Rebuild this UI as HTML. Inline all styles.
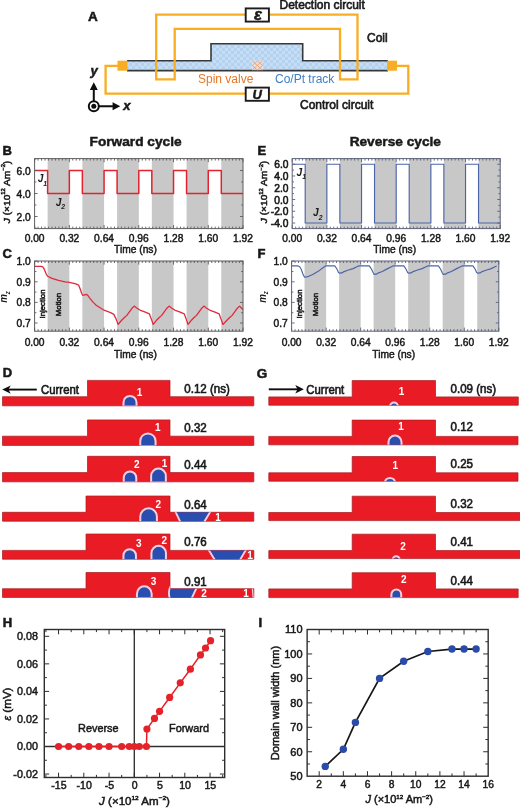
<!DOCTYPE html>
<html><head><meta charset="utf-8"><title>Figure</title>
<style>
html,body{margin:0;padding:0;background:#fff;}
body{width:520px;height:808px;overflow:hidden;}
svg{display:block;}
text{font-family:"Liberation Sans",sans-serif;fill:#1a1a1a;}
text{stroke:#1a1a1a;stroke-width:0.5px;}
.nos{stroke:none;}
.b{font-weight:bold;}
.lab{stroke-width:0.55px;}
.hv{stroke-width:0.62px;}
.i{font-style:italic;}
</style></head><body>
<svg width="520" height="808" viewBox="0 0 520 808">
<defs>
<pattern id="dots" width="6" height="6" patternUnits="userSpaceOnUse">
<rect width="6" height="6" fill="#c6def4"/>
<rect x="0" y="0" width="3" height="3" fill="#b4d2ef"/>
<rect x="3" y="3" width="3" height="3" fill="#b4d2ef"/>
</pattern>
<filter id="soft" x="-5%" y="-5%" width="110%" height="110%"><feGaussianBlur stdDeviation="0.35"/></filter>
</defs>
<rect width="520" height="808" fill="#fff"/>
<g filter="url(#soft)">

<g id="pA">
<text x="88" y="21.3" class="b lab" font-size="13.5">A</text>
<path d="M127 60.8 H211 V43.7 H302.7 V60.8 H388 V70.6 H127 Z" fill="url(#dots)"/>
<path d="M127 60.8 H211 V43.7 H302.7 V60.8 H388" fill="none" stroke="#383838" stroke-width="1.6"/>
<path d="M127 70.6 H388" fill="none" stroke="#383838" stroke-width="1.6"/>
<path d="M245.5 14.6 H156.2 V79.3 H174.7 V28.8 H340 V79.3 H357.5 V14.6 H269.5" fill="none" stroke="#f8ad22" stroke-width="2.3"/>
<path d="M118 65.8 H105.6 V93.7 H245.5 M269.5 93.7 H408.3 V65.8 H396" fill="none" stroke="#f8ad22" stroke-width="2.3"/>
<rect x="117.5" y="60.7" width="10" height="10" fill="#f8ad22"/>
<rect x="387" y="60.7" width="10" height="10" fill="#f8ad22"/>
<rect x="245.7" y="8.4" width="23.2" height="13.2" fill="#fff" stroke="#1c1c1c" stroke-width="1.9"/>
<rect x="245.7" y="87.6" width="23.2" height="13.2" fill="#fff" stroke="#1c1c1c" stroke-width="1.9"/>
<text x="258" y="20" text-anchor="middle" class="b i" font-size="16.5" stroke="#1a1a1a" stroke-width="0.3">ε</text>
<text x="257.3" y="99.2" text-anchor="middle" class="b i" font-size="13" stroke="#1a1a1a" stroke-width="0.3">U</text>
<rect x="252" y="60.6" width="10.6" height="9.6" fill="#fbe9dc" opacity="0.55"/><g stroke="#f0a070" stroke-width="0.9" fill="none"><path d="M252.3 61 l5 4.5 l-5 4.5 M262.3 61 l-5 4.5 l5 4.5 M257.3 61 l-5 4.5 l5 4.5 l5 -4.5 Z"/></g>
<text x="279.5" y="9" font-size="12" class="hv">Detection circuit</text>
<text x="367" y="41.5" font-size="12" class="hv">Coil</text>
<text x="198" y="82.5" font-size="12" class="nos" style="fill:#e8772a">Spin valve</text>
<text x="275" y="82.5" font-size="12" class="nos" style="fill:#3f7fc4">Co/Pt track</text>
<text x="300" y="108.7" font-size="12" class="hv">Control circuit</text>
<g stroke="#111" stroke-width="2" fill="none"><path d="M93.8 106.2 V88 M93.8 106.2 H113"/><circle cx="93.8" cy="106.2" r="5" fill="#fff"/></g>
<circle cx="93.8" cy="106.2" r="2.5" fill="#111"/>
<path d="M93.8 82.3 l-4 7.7 h8 Z M120.3 106.2 l-7.7 -4 v8 Z" fill="#111"/>
<text x="90.5" y="75" class="b i" font-size="13">y</text>
<text x="123.3" y="110.3" class="b i" font-size="13">x</text>
</g>
<text x="135.6" y="146.3" text-anchor="middle" class="b" font-size="13.7">Forward cycle</text>
<text x="395.3" y="146.3" text-anchor="middle" class="b" font-size="13.7">Reverse cycle</text>
<g>
<rect x="47.62" y="158.6" width="21.71" height="70.0" fill="#c8c8c8"/>
<rect x="82.36" y="158.6" width="21.71" height="70.0" fill="#c8c8c8"/>
<rect x="117.09" y="158.6" width="21.71" height="70.0" fill="#c8c8c8"/>
<rect x="151.83" y="158.6" width="21.71" height="70.0" fill="#c8c8c8"/>
<rect x="186.56" y="158.6" width="21.71" height="70.0" fill="#c8c8c8"/>
<rect x="221.29" y="158.6" width="21.71" height="70.0" fill="#c8c8c8"/>
<path d="M34.60 170.50 L47.62 170.50 L47.62 193.50 L69.33 193.50 L69.33 170.50 L82.36 170.50 L82.36 193.50 L104.07 193.50 L104.07 170.50 L117.09 170.50 L117.09 193.50 L138.80 193.50 L138.80 170.50 L151.83 170.50 L151.83 193.50 L173.53 193.50 L173.53 170.50 L186.56 170.50 L186.56 193.50 L208.27 193.50 L208.27 170.50 L221.29 170.50 L221.29 193.50 L243.00 193.50" fill="none" stroke="#e2232d" stroke-width="1.5" stroke-linejoin="round"/>
<rect x="34.6" y="158.6" width="208.4" height="70.0" fill="none" stroke="#5e5e5e" stroke-width="1"/>
<path d="M34.60 228.6 v-3.6 M34.60 158.6 v3.6 M69.33 228.6 v-3.6 M69.33 158.6 v3.6 M104.07 228.6 v-3.6 M104.07 158.6 v3.6 M138.80 228.6 v-3.6 M138.80 158.6 v3.6 M173.53 228.6 v-3.6 M173.53 158.6 v3.6 M208.27 228.6 v-3.6 M208.27 158.6 v3.6 M243.00 228.6 v-3.6 M243.00 158.6 v3.6 M38.07 228.6 v-2 M38.07 158.6 v2 M41.55 228.6 v-2 M41.55 158.6 v2 M45.02 228.6 v-2 M45.02 158.6 v2 M48.49 228.6 v-2 M48.49 158.6 v2 M51.97 228.6 v-2 M51.97 158.6 v2 M55.44 228.6 v-2 M55.44 158.6 v2 M58.91 228.6 v-2 M58.91 158.6 v2 M62.39 228.6 v-2 M62.39 158.6 v2 M65.86 228.6 v-2 M65.86 158.6 v2 M72.81 228.6 v-2 M72.81 158.6 v2 M76.28 228.6 v-2 M76.28 158.6 v2 M79.75 228.6 v-2 M79.75 158.6 v2 M83.23 228.6 v-2 M83.23 158.6 v2 M86.70 228.6 v-2 M86.70 158.6 v2 M90.17 228.6 v-2 M90.17 158.6 v2 M93.65 228.6 v-2 M93.65 158.6 v2 M97.12 228.6 v-2 M97.12 158.6 v2 M100.59 228.6 v-2 M100.59 158.6 v2 M107.54 228.6 v-2 M107.54 158.6 v2 M111.01 228.6 v-2 M111.01 158.6 v2 M114.49 228.6 v-2 M114.49 158.6 v2 M117.96 228.6 v-2 M117.96 158.6 v2 M121.43 228.6 v-2 M121.43 158.6 v2 M124.91 228.6 v-2 M124.91 158.6 v2 M128.38 228.6 v-2 M128.38 158.6 v2 M131.85 228.6 v-2 M131.85 158.6 v2 M135.33 228.6 v-2 M135.33 158.6 v2 M142.27 228.6 v-2 M142.27 158.6 v2 M145.75 228.6 v-2 M145.75 158.6 v2 M149.22 228.6 v-2 M149.22 158.6 v2 M152.69 228.6 v-2 M152.69 158.6 v2 M156.17 228.6 v-2 M156.17 158.6 v2 M159.64 228.6 v-2 M159.64 158.6 v2 M163.11 228.6 v-2 M163.11 158.6 v2 M166.59 228.6 v-2 M166.59 158.6 v2 M170.06 228.6 v-2 M170.06 158.6 v2 M177.01 228.6 v-2 M177.01 158.6 v2 M180.48 228.6 v-2 M180.48 158.6 v2 M183.95 228.6 v-2 M183.95 158.6 v2 M187.43 228.6 v-2 M187.43 158.6 v2 M190.90 228.6 v-2 M190.90 158.6 v2 M194.37 228.6 v-2 M194.37 158.6 v2 M197.85 228.6 v-2 M197.85 158.6 v2 M201.32 228.6 v-2 M201.32 158.6 v2 M204.79 228.6 v-2 M204.79 158.6 v2 M211.74 228.6 v-2 M211.74 158.6 v2 M215.21 228.6 v-2 M215.21 158.6 v2 M218.69 228.6 v-2 M218.69 158.6 v2 M222.16 228.6 v-2 M222.16 158.6 v2 M225.63 228.6 v-2 M225.63 158.6 v2 M229.11 228.6 v-2 M229.11 158.6 v2 M232.58 228.6 v-2 M232.58 158.6 v2 M236.05 228.6 v-2 M236.05 158.6 v2 M239.53 228.6 v-2 M239.53 158.6 v2 M34.6 170.50 h3 M243 170.50 h-3 M34.6 193.50 h3 M243 193.50 h-3 M34.6 216.50 h3 M243 216.50 h-3 M34.6 228.00 h1.8 M243 228.00 h-1.8 M34.6 205.00 h1.8 M243 205.00 h-1.8 M34.6 182.00 h1.8 M243 182.00 h-1.8 M34.6 159.00 h1.8 M243 159.00 h-1.8" stroke="#5e5e5e" stroke-width="0.9" fill="none"/>
<text transform="translate(34.60,242.30) scale(0.93,1)" text-anchor="middle" font-size="11">0.00</text>
<text transform="translate(69.33,242.30) scale(0.93,1)" text-anchor="middle" font-size="11">0.32</text>
<text transform="translate(104.07,242.30) scale(0.93,1)" text-anchor="middle" font-size="11">0.64</text>
<text transform="translate(138.80,242.30) scale(0.93,1)" text-anchor="middle" font-size="11">0.96</text>
<text transform="translate(173.53,242.30) scale(0.93,1)" text-anchor="middle" font-size="11">1.28</text>
<text transform="translate(208.27,242.30) scale(0.93,1)" text-anchor="middle" font-size="11">1.60</text>
<text transform="translate(243.00,242.30) scale(0.93,1)" text-anchor="middle" font-size="11">1.92</text>
<text transform="translate(30.80,174.50) scale(0.93,1)" text-anchor="end" font-size="11">6.0</text>
<text transform="translate(30.80,197.50) scale(0.93,1)" text-anchor="end" font-size="11">4.0</text>
<text transform="translate(30.80,220.50) scale(0.93,1)" text-anchor="end" font-size="11">2.0</text>
<text transform="translate(135.50,253.10) scale(0.93,1)" text-anchor="middle" font-size="11">Time (ns)</text>
<text x="2.6" y="155.3" class="b lab" font-size="13">B</text>
<text transform="translate(9.80,192.00) rotate(-90) scale(1.05,1)" text-anchor="middle" font-size="9.7"><tspan class="i">J</tspan> (×10<tspan font-size="5.5" dy="-4.8">12</tspan><tspan dy="4.8"> Am</tspan><tspan font-size="5.5" dy="-4.8">−2</tspan><tspan dy="4.8">)</tspan></text><text x="37.7" y="182.2" class="b i nos" font-size="10.2">J<tspan font-size="6.8" dy="3.8">1</tspan></text><text x="55.7" y="205.5" class="b i nos" font-size="10.2">J<tspan font-size="6.8" dy="3.8">2</tspan></text>
</g>
<g>
<rect x="305.20" y="158.6" width="21.67" height="70.0" fill="#c8c8c8"/>
<rect x="339.87" y="158.6" width="21.67" height="70.0" fill="#c8c8c8"/>
<rect x="374.53" y="158.6" width="21.67" height="70.0" fill="#c8c8c8"/>
<rect x="409.20" y="158.6" width="21.67" height="70.0" fill="#c8c8c8"/>
<rect x="443.87" y="158.6" width="21.67" height="70.0" fill="#c8c8c8"/>
<rect x="478.53" y="158.6" width="21.67" height="70.0" fill="#c8c8c8"/>
<path d="M292.20 164.22 L305.20 164.22 L305.20 223.02 L326.87 223.02 L326.87 164.22 L339.87 164.22 L339.87 223.02 L361.53 223.02 L361.53 164.22 L374.53 164.22 L374.53 223.02 L396.20 223.02 L396.20 164.22 L409.20 164.22 L409.20 223.02 L430.87 223.02 L430.87 164.22 L443.87 164.22 L443.87 223.02 L465.53 223.02 L465.53 164.22 L478.53 164.22 L478.53 223.02 L500.20 223.02" fill="none" stroke="#4c64a8" stroke-width="1.15" stroke-linejoin="round"/>
<rect x="292.2" y="158.6" width="208.0" height="70.0" fill="none" stroke="#5c6278" stroke-width="1"/>
<path d="M292.20 228.6 v-3.6 M292.20 158.6 v3.6 M326.87 228.6 v-3.6 M326.87 158.6 v3.6 M361.53 228.6 v-3.6 M361.53 158.6 v3.6 M396.20 228.6 v-3.6 M396.20 158.6 v3.6 M430.87 228.6 v-3.6 M430.87 158.6 v3.6 M465.53 228.6 v-3.6 M465.53 158.6 v3.6 M500.20 228.6 v-3.6 M500.20 158.6 v3.6 M295.67 228.6 v-2 M295.67 158.6 v2 M299.13 228.6 v-2 M299.13 158.6 v2 M302.60 228.6 v-2 M302.60 158.6 v2 M306.07 228.6 v-2 M306.07 158.6 v2 M309.53 228.6 v-2 M309.53 158.6 v2 M313.00 228.6 v-2 M313.00 158.6 v2 M316.47 228.6 v-2 M316.47 158.6 v2 M319.93 228.6 v-2 M319.93 158.6 v2 M323.40 228.6 v-2 M323.40 158.6 v2 M330.33 228.6 v-2 M330.33 158.6 v2 M333.80 228.6 v-2 M333.80 158.6 v2 M337.27 228.6 v-2 M337.27 158.6 v2 M340.73 228.6 v-2 M340.73 158.6 v2 M344.20 228.6 v-2 M344.20 158.6 v2 M347.67 228.6 v-2 M347.67 158.6 v2 M351.13 228.6 v-2 M351.13 158.6 v2 M354.60 228.6 v-2 M354.60 158.6 v2 M358.07 228.6 v-2 M358.07 158.6 v2 M365.00 228.6 v-2 M365.00 158.6 v2 M368.47 228.6 v-2 M368.47 158.6 v2 M371.93 228.6 v-2 M371.93 158.6 v2 M375.40 228.6 v-2 M375.40 158.6 v2 M378.87 228.6 v-2 M378.87 158.6 v2 M382.33 228.6 v-2 M382.33 158.6 v2 M385.80 228.6 v-2 M385.80 158.6 v2 M389.27 228.6 v-2 M389.27 158.6 v2 M392.73 228.6 v-2 M392.73 158.6 v2 M399.67 228.6 v-2 M399.67 158.6 v2 M403.13 228.6 v-2 M403.13 158.6 v2 M406.60 228.6 v-2 M406.60 158.6 v2 M410.07 228.6 v-2 M410.07 158.6 v2 M413.53 228.6 v-2 M413.53 158.6 v2 M417.00 228.6 v-2 M417.00 158.6 v2 M420.47 228.6 v-2 M420.47 158.6 v2 M423.93 228.6 v-2 M423.93 158.6 v2 M427.40 228.6 v-2 M427.40 158.6 v2 M434.33 228.6 v-2 M434.33 158.6 v2 M437.80 228.6 v-2 M437.80 158.6 v2 M441.27 228.6 v-2 M441.27 158.6 v2 M444.73 228.6 v-2 M444.73 158.6 v2 M448.20 228.6 v-2 M448.20 158.6 v2 M451.67 228.6 v-2 M451.67 158.6 v2 M455.13 228.6 v-2 M455.13 158.6 v2 M458.60 228.6 v-2 M458.60 158.6 v2 M462.07 228.6 v-2 M462.07 158.6 v2 M469.00 228.6 v-2 M469.00 158.6 v2 M472.47 228.6 v-2 M472.47 158.6 v2 M475.93 228.6 v-2 M475.93 158.6 v2 M479.40 228.6 v-2 M479.40 158.6 v2 M482.87 228.6 v-2 M482.87 158.6 v2 M486.33 228.6 v-2 M486.33 158.6 v2 M489.80 228.6 v-2 M489.80 158.6 v2 M493.27 228.6 v-2 M493.27 158.6 v2 M496.73 228.6 v-2 M496.73 158.6 v2 M292.2 164.22 h3 M500.2 164.22 h-3 M292.2 175.98 h3 M500.2 175.98 h-3 M292.2 187.74 h3 M500.2 187.74 h-3 M292.2 199.50 h3 M500.2 199.50 h-3 M292.2 211.26 h3 M500.2 211.26 h-3 M292.2 223.02 h3 M500.2 223.02 h-3 M292.2 170.10 h1.8 M500.2 170.10 h-1.8 M292.2 181.86 h1.8 M500.2 181.86 h-1.8 M292.2 193.62 h1.8 M500.2 193.62 h-1.8 M292.2 205.38 h1.8 M500.2 205.38 h-1.8 M292.2 217.14 h1.8 M500.2 217.14 h-1.8" stroke="#5c6278" stroke-width="0.9" fill="none"/>
<text transform="translate(292.20,242.30) scale(0.93,1)" text-anchor="middle" font-size="11">0.00</text>
<text transform="translate(326.87,242.30) scale(0.93,1)" text-anchor="middle" font-size="11">0.32</text>
<text transform="translate(361.53,242.30) scale(0.93,1)" text-anchor="middle" font-size="11">0.64</text>
<text transform="translate(396.20,242.30) scale(0.93,1)" text-anchor="middle" font-size="11">0.96</text>
<text transform="translate(430.87,242.30) scale(0.93,1)" text-anchor="middle" font-size="11">1.28</text>
<text transform="translate(465.53,242.30) scale(0.93,1)" text-anchor="middle" font-size="11">1.60</text>
<text transform="translate(500.20,242.30) scale(0.93,1)" text-anchor="middle" font-size="11">1.92</text>
<text transform="translate(288.40,168.22) scale(0.93,1)" text-anchor="end" font-size="11" class="hv">6.0</text>
<text transform="translate(288.40,179.98) scale(0.93,1)" text-anchor="end" font-size="11" class="hv">4.0</text>
<text transform="translate(288.40,191.74) scale(0.93,1)" text-anchor="end" font-size="11" class="hv">2.0</text>
<text transform="translate(288.40,203.50) scale(0.93,1)" text-anchor="end" font-size="11" class="hv">0.0</text>
<text transform="translate(288.40,215.26) scale(0.93,1)" text-anchor="end" font-size="11" class="hv">-2.0</text>
<text transform="translate(288.40,227.02) scale(0.93,1)" text-anchor="end" font-size="11" class="hv">-4.0</text>
<text transform="translate(394.70,253.10) scale(0.93,1)" text-anchor="middle" font-size="11">Time (ns)</text>
<text x="257.6" y="155.3" class="b lab" font-size="13">E</text>
<text transform="translate(267.40,192.00) rotate(-90) scale(1.05,1)" text-anchor="middle" font-size="9.7"><tspan class="i">J</tspan> (×10<tspan font-size="5.5" dy="-4.8">12</tspan><tspan dy="4.8"> Am</tspan><tspan font-size="5.5" dy="-4.8">−2</tspan><tspan dy="4.8">)</tspan></text><text x="296.5" y="175.6" class="b i nos" font-size="10.2">J<tspan font-size="6.8" dy="3.8">1</tspan></text><text x="313" y="216.2" class="b i nos" font-size="10.2">J<tspan font-size="6.8" dy="3.8">2</tspan></text>
</g>
<g>
<rect x="47.62" y="261" width="21.71" height="70.19999999999999" fill="#c8c8c8"/>
<rect x="82.36" y="261" width="21.71" height="70.19999999999999" fill="#c8c8c8"/>
<rect x="117.09" y="261" width="21.71" height="70.19999999999999" fill="#c8c8c8"/>
<rect x="151.83" y="261" width="21.71" height="70.19999999999999" fill="#c8c8c8"/>
<rect x="186.56" y="261" width="21.71" height="70.19999999999999" fill="#c8c8c8"/>
<rect x="221.29" y="261" width="21.71" height="70.19999999999999" fill="#c8c8c8"/>
<path d="M34.60 266.35 L41.11 266.35 L42.74 266.97 L44.37 269.44 L46.00 273.56 L47.62 276.24 L51.97 278.30 L58.48 280.36 L64.99 281.80 L69.33 282.42 L75.85 283.86 L78.56 285.10 L80.19 289.01 L81.82 293.75 L82.90 295.40 L84.53 294.78 L86.16 294.37 L87.79 295.40 L89.96 298.28 L93.21 302.40 L96.47 305.49 L99.72 307.55 L104.07 310.23 L110.58 312.70 L113.84 314.35 L116.01 318.88 L118.18 324.44 L121.43 320.53 L124.69 317.23 L126.86 315.38 L129.03 312.29 L132.29 307.96 L134.24 306.11 L136.63 307.96 L139.89 310.02 L145.31 312.08 L149.44 313.94 L151.28 318.88 L153.24 324.44 L156.28 320.53 L159.53 317.23 L161.70 315.38 L163.87 312.29 L167.13 307.96 L169.08 306.11 L171.47 307.96 L174.73 310.02 L180.15 312.08 L184.28 313.94 L186.12 318.88 L188.08 324.44 L191.12 320.53 L194.37 317.23 L196.54 315.38 L198.72 312.29 L201.97 307.96 L203.92 306.11 L206.31 307.96 L209.57 310.02 L215.00 312.08 L219.12 313.94 L220.97 318.88 L222.92 324.44 L226.72 320.53 L229.98 317.23 L232.15 315.38 L234.32 312.29 L237.57 307.96 L239.53 306.11 L241.37 307.96 L243.00 309.40" fill="none" stroke="#df2b3c" stroke-width="1.3" stroke-linejoin="round"/>
<rect x="34.6" y="261" width="208.4" height="70.19999999999999" fill="none" stroke="#5e5a5a" stroke-width="1"/>
<path d="M34.60 331.2 v-3.6 M34.60 261 v3.6 M69.33 331.2 v-3.6 M69.33 261 v3.6 M104.07 331.2 v-3.6 M104.07 261 v3.6 M138.80 331.2 v-3.6 M138.80 261 v3.6 M173.53 331.2 v-3.6 M173.53 261 v3.6 M208.27 331.2 v-3.6 M208.27 261 v3.6 M243.00 331.2 v-3.6 M243.00 261 v3.6 M38.07 331.2 v-2 M38.07 261 v2 M41.55 331.2 v-2 M41.55 261 v2 M45.02 331.2 v-2 M45.02 261 v2 M48.49 331.2 v-2 M48.49 261 v2 M51.97 331.2 v-2 M51.97 261 v2 M55.44 331.2 v-2 M55.44 261 v2 M58.91 331.2 v-2 M58.91 261 v2 M62.39 331.2 v-2 M62.39 261 v2 M65.86 331.2 v-2 M65.86 261 v2 M72.81 331.2 v-2 M72.81 261 v2 M76.28 331.2 v-2 M76.28 261 v2 M79.75 331.2 v-2 M79.75 261 v2 M83.23 331.2 v-2 M83.23 261 v2 M86.70 331.2 v-2 M86.70 261 v2 M90.17 331.2 v-2 M90.17 261 v2 M93.65 331.2 v-2 M93.65 261 v2 M97.12 331.2 v-2 M97.12 261 v2 M100.59 331.2 v-2 M100.59 261 v2 M107.54 331.2 v-2 M107.54 261 v2 M111.01 331.2 v-2 M111.01 261 v2 M114.49 331.2 v-2 M114.49 261 v2 M117.96 331.2 v-2 M117.96 261 v2 M121.43 331.2 v-2 M121.43 261 v2 M124.91 331.2 v-2 M124.91 261 v2 M128.38 331.2 v-2 M128.38 261 v2 M131.85 331.2 v-2 M131.85 261 v2 M135.33 331.2 v-2 M135.33 261 v2 M142.27 331.2 v-2 M142.27 261 v2 M145.75 331.2 v-2 M145.75 261 v2 M149.22 331.2 v-2 M149.22 261 v2 M152.69 331.2 v-2 M152.69 261 v2 M156.17 331.2 v-2 M156.17 261 v2 M159.64 331.2 v-2 M159.64 261 v2 M163.11 331.2 v-2 M163.11 261 v2 M166.59 331.2 v-2 M166.59 261 v2 M170.06 331.2 v-2 M170.06 261 v2 M177.01 331.2 v-2 M177.01 261 v2 M180.48 331.2 v-2 M180.48 261 v2 M183.95 331.2 v-2 M183.95 261 v2 M187.43 331.2 v-2 M187.43 261 v2 M190.90 331.2 v-2 M190.90 261 v2 M194.37 331.2 v-2 M194.37 261 v2 M197.85 331.2 v-2 M197.85 261 v2 M201.32 331.2 v-2 M201.32 261 v2 M204.79 331.2 v-2 M204.79 261 v2 M211.74 331.2 v-2 M211.74 261 v2 M215.21 331.2 v-2 M215.21 261 v2 M218.69 331.2 v-2 M218.69 261 v2 M222.16 331.2 v-2 M222.16 261 v2 M225.63 331.2 v-2 M225.63 261 v2 M229.11 331.2 v-2 M229.11 261 v2 M232.58 331.2 v-2 M232.58 261 v2 M236.05 331.2 v-2 M236.05 261 v2 M239.53 331.2 v-2 M239.53 261 v2 M34.6 261.20 h3 M243 261.20 h-3 M34.6 281.80 h3 M243 281.80 h-3 M34.6 302.40 h3 M243 302.40 h-3 M34.6 323.00 h3 M243 323.00 h-3 M34.6 271.50 h1.8 M243 271.50 h-1.8 M34.6 292.10 h1.8 M243 292.10 h-1.8 M34.6 312.70 h1.8 M243 312.70 h-1.8" stroke="#5e5a5a" stroke-width="0.9" fill="none"/>
<text transform="translate(34.60,346.00) scale(0.93,1)" text-anchor="middle" font-size="11">0.00</text>
<text transform="translate(69.33,346.00) scale(0.93,1)" text-anchor="middle" font-size="11">0.32</text>
<text transform="translate(104.07,346.00) scale(0.93,1)" text-anchor="middle" font-size="11">0.64</text>
<text transform="translate(138.80,346.00) scale(0.93,1)" text-anchor="middle" font-size="11">0.96</text>
<text transform="translate(173.53,346.00) scale(0.93,1)" text-anchor="middle" font-size="11">1.28</text>
<text transform="translate(208.27,346.00) scale(0.93,1)" text-anchor="middle" font-size="11">1.60</text>
<text transform="translate(243.00,346.00) scale(0.93,1)" text-anchor="middle" font-size="11">1.92</text>
<text transform="translate(30.80,265.20) scale(0.93,1)" text-anchor="end" font-size="11">1.0</text>
<text transform="translate(30.80,285.80) scale(0.93,1)" text-anchor="end" font-size="11">0.9</text>
<text transform="translate(30.80,306.40) scale(0.93,1)" text-anchor="end" font-size="11">0.8</text>
<text transform="translate(30.80,327.00) scale(0.93,1)" text-anchor="end" font-size="11">0.7</text>
<text transform="translate(135.50,358.00) scale(0.93,1)" text-anchor="middle" font-size="11">Time (ns)</text>
<text x="2.6" y="257.5" class="b lab" font-size="13">C</text>
<text transform="translate(7.30,297.00) rotate(-90) scale(0.93,1)" text-anchor="middle" font-size="10.5" class="b nos"><tspan class="i">m</tspan><tspan class="i" font-size="6.5" dy="2.5">z</tspan></text><text transform="translate(44.50,318.50) rotate(-90) scale(1,1)" text-anchor="start" font-size="7.8">Injection</text><text transform="translate(60.80,316.20) rotate(-90) scale(1,1)" text-anchor="start" font-size="7.8">Motion</text>
</g>
<g>
<rect x="304.55" y="261" width="21.58" height="70.19999999999999" fill="#c8c8c8"/>
<rect x="339.08" y="261" width="21.58" height="70.19999999999999" fill="#c8c8c8"/>
<rect x="373.62" y="261" width="21.58" height="70.19999999999999" fill="#c8c8c8"/>
<rect x="408.15" y="261" width="21.58" height="70.19999999999999" fill="#c8c8c8"/>
<rect x="442.68" y="261" width="21.58" height="70.19999999999999" fill="#c8c8c8"/>
<rect x="477.22" y="261" width="21.58" height="70.19999999999999" fill="#c8c8c8"/>
<path d="M291.60 265.94 L298.08 265.94 L299.69 266.76 L301.31 269.44 L302.93 273.97 L304.55 277.27 L307.79 276.65 L313.18 274.18 L318.58 271.09 L322.90 267.79 L325.59 265.94 L334.77 265.94 L335.31 266.56 L336.93 269.03 L338.54 272.53 L339.62 273.15 L341.78 272.94 L343.40 271.91 L347.72 270.26 L353.11 268.62 L356.35 266.97 L358.51 265.94 L369.30 265.94 L369.84 266.56 L371.46 269.03 L373.08 272.53 L374.16 274.38 L376.31 274.18 L377.93 273.15 L382.25 271.50 L387.65 268.62 L390.88 266.97 L393.04 265.94 L403.83 265.94 L404.37 266.56 L405.99 269.03 L407.61 272.53 L408.69 273.15 L410.85 272.94 L412.47 271.91 L416.78 270.26 L422.18 268.62 L425.42 266.97 L427.58 265.94 L438.37 265.94 L438.91 266.56 L440.53 269.03 L442.14 272.53 L443.22 274.38 L445.38 274.18 L447.00 273.15 L451.32 271.50 L456.71 268.62 L459.95 266.97 L462.11 265.94 L472.90 265.94 L473.44 266.56 L475.06 269.03 L476.68 272.53 L477.76 273.15 L479.91 272.94 L481.53 271.91 L485.85 270.26 L491.25 268.62 L494.48 266.97 L496.64 265.94" fill="none" stroke="#4c64a8" stroke-width="1.15" stroke-linejoin="round"/>
<rect x="291.6" y="261" width="207.2" height="70.19999999999999" fill="none" stroke="#5c6278" stroke-width="1"/>
<path d="M291.60 331.2 v-3.6 M291.60 261 v3.6 M326.13 331.2 v-3.6 M326.13 261 v3.6 M360.67 331.2 v-3.6 M360.67 261 v3.6 M395.20 331.2 v-3.6 M395.20 261 v3.6 M429.73 331.2 v-3.6 M429.73 261 v3.6 M464.27 331.2 v-3.6 M464.27 261 v3.6 M498.80 331.2 v-3.6 M498.80 261 v3.6 M295.05 331.2 v-2 M295.05 261 v2 M298.51 331.2 v-2 M298.51 261 v2 M301.96 331.2 v-2 M301.96 261 v2 M305.41 331.2 v-2 M305.41 261 v2 M308.87 331.2 v-2 M308.87 261 v2 M312.32 331.2 v-2 M312.32 261 v2 M315.77 331.2 v-2 M315.77 261 v2 M319.23 331.2 v-2 M319.23 261 v2 M322.68 331.2 v-2 M322.68 261 v2 M329.59 331.2 v-2 M329.59 261 v2 M333.04 331.2 v-2 M333.04 261 v2 M336.49 331.2 v-2 M336.49 261 v2 M339.95 331.2 v-2 M339.95 261 v2 M343.40 331.2 v-2 M343.40 261 v2 M346.85 331.2 v-2 M346.85 261 v2 M350.31 331.2 v-2 M350.31 261 v2 M353.76 331.2 v-2 M353.76 261 v2 M357.21 331.2 v-2 M357.21 261 v2 M364.12 331.2 v-2 M364.12 261 v2 M367.57 331.2 v-2 M367.57 261 v2 M371.03 331.2 v-2 M371.03 261 v2 M374.48 331.2 v-2 M374.48 261 v2 M377.93 331.2 v-2 M377.93 261 v2 M381.39 331.2 v-2 M381.39 261 v2 M384.84 331.2 v-2 M384.84 261 v2 M388.29 331.2 v-2 M388.29 261 v2 M391.75 331.2 v-2 M391.75 261 v2 M398.65 331.2 v-2 M398.65 261 v2 M402.11 331.2 v-2 M402.11 261 v2 M405.56 331.2 v-2 M405.56 261 v2 M409.01 331.2 v-2 M409.01 261 v2 M412.47 331.2 v-2 M412.47 261 v2 M415.92 331.2 v-2 M415.92 261 v2 M419.37 331.2 v-2 M419.37 261 v2 M422.83 331.2 v-2 M422.83 261 v2 M426.28 331.2 v-2 M426.28 261 v2 M433.19 331.2 v-2 M433.19 261 v2 M436.64 331.2 v-2 M436.64 261 v2 M440.09 331.2 v-2 M440.09 261 v2 M443.55 331.2 v-2 M443.55 261 v2 M447.00 331.2 v-2 M447.00 261 v2 M450.45 331.2 v-2 M450.45 261 v2 M453.91 331.2 v-2 M453.91 261 v2 M457.36 331.2 v-2 M457.36 261 v2 M460.81 331.2 v-2 M460.81 261 v2 M467.72 331.2 v-2 M467.72 261 v2 M471.17 331.2 v-2 M471.17 261 v2 M474.63 331.2 v-2 M474.63 261 v2 M478.08 331.2 v-2 M478.08 261 v2 M481.53 331.2 v-2 M481.53 261 v2 M484.99 331.2 v-2 M484.99 261 v2 M488.44 331.2 v-2 M488.44 261 v2 M491.89 331.2 v-2 M491.89 261 v2 M495.35 331.2 v-2 M495.35 261 v2 M291.6 261.20 h3 M498.8 261.20 h-3 M291.6 281.80 h3 M498.8 281.80 h-3 M291.6 302.40 h3 M498.8 302.40 h-3 M291.6 323.00 h3 M498.8 323.00 h-3 M291.6 271.50 h1.8 M498.8 271.50 h-1.8 M291.6 292.10 h1.8 M498.8 292.10 h-1.8 M291.6 312.70 h1.8 M498.8 312.70 h-1.8" stroke="#5c6278" stroke-width="0.9" fill="none"/>
<text transform="translate(291.60,346.00) scale(0.93,1)" text-anchor="middle" font-size="11">0.00</text>
<text transform="translate(326.13,346.00) scale(0.93,1)" text-anchor="middle" font-size="11">0.32</text>
<text transform="translate(360.67,346.00) scale(0.93,1)" text-anchor="middle" font-size="11">0.64</text>
<text transform="translate(395.20,346.00) scale(0.93,1)" text-anchor="middle" font-size="11">0.96</text>
<text transform="translate(429.73,346.00) scale(0.93,1)" text-anchor="middle" font-size="11">1.28</text>
<text transform="translate(464.27,346.00) scale(0.93,1)" text-anchor="middle" font-size="11">1.60</text>
<text transform="translate(498.80,346.00) scale(0.93,1)" text-anchor="middle" font-size="11">1.92</text>
<text transform="translate(287.80,265.20) scale(0.93,1)" text-anchor="end" font-size="11">1.0</text>
<text transform="translate(287.80,285.80) scale(0.93,1)" text-anchor="end" font-size="11">0.9</text>
<text transform="translate(287.80,306.40) scale(0.93,1)" text-anchor="end" font-size="11">0.8</text>
<text transform="translate(287.80,327.00) scale(0.93,1)" text-anchor="end" font-size="11">0.7</text>
<text transform="translate(393.70,358.00) scale(0.93,1)" text-anchor="middle" font-size="11">Time (ns)</text>
<text x="257.6" y="257.5" class="b lab" font-size="13">F</text>
<text transform="translate(265.50,297.00) rotate(-90) scale(0.93,1)" text-anchor="middle" font-size="10.5" class="b nos"><tspan class="i">m</tspan><tspan class="i" font-size="6.5" dy="2.5">z</tspan></text><text transform="translate(301.50,318.50) rotate(-90) scale(1,1)" text-anchor="start" font-size="7.8">Injection</text><text transform="translate(317.80,316.20) rotate(-90) scale(1,1)" text-anchor="start" font-size="7.8">Motion</text>
</g>
<g id="pD">
<text x="2.8" y="377.3" class="b lab" font-size="13">D</text>
<path d="M36.8 389.6 H8" stroke="#111" stroke-width="1.9" fill="none"/><path d="M2.2 389.6 l8.5 -4.2 l-2.2 4.2 l2.2 4.2 Z" fill="#111"/>
<text transform="translate(41.00,394.00) scale(0.95,1)" text-anchor="start" font-size="12" class="hv">Current</text>
<clipPath id="cd0"><path d="M2.5 396.7 H87.5 V380.4 H170 V396.7 H253.8 V405.8 H2.5 Z"/></clipPath>
<path d="M2.5 396.7 H87.5 V380.4 H170 V396.7 H253.8 V405.8 H2.5 Z" fill="#e91f26" stroke="#a81a1f" stroke-width="0.7"/>
<g clip-path="url(#cd0)"><path d="M123.50 406.5 V402.40 A6.50 6.50 0 0 1 136.50 402.40 V406.5 Z" fill="#2a4db0" stroke="#f5cfdf" stroke-width="2.0"/></g>
<text x="139.6" y="395.7" font-size="10" class="b nos" style="fill:#fff" text-anchor="middle">1</text>
<text transform="translate(184.30,393.00) scale(0.96,1)" text-anchor="start" font-size="12" class="hv">0.12 (ns)</text>
<clipPath id="cd1"><path d="M2.5 436.2 H87.5 V419.9 H170 V436.2 H253.8 V445.4 H2.5 Z"/></clipPath>
<path d="M2.5 436.2 H87.5 V419.9 H170 V436.2 H253.8 V445.4 H2.5 Z" fill="#e91f26" stroke="#a81a1f" stroke-width="0.7"/>
<g clip-path="url(#cd1)"><path d="M140.25 446 V441.05 A7.65 7.65 0 0 1 155.55 441.05 V446 Z" fill="#2a4db0" stroke="#f5cfdf" stroke-width="2.0"/></g>
<text x="157.8" y="431.2" font-size="10" class="b nos" style="fill:#fff" text-anchor="middle">1</text>
<text transform="translate(184.30,432.00) scale(0.96,1)" text-anchor="start" font-size="12" class="hv">0.32</text>
<clipPath id="cd2"><path d="M2.5 472.6 H87.5 V456.3 H170 V472.6 H253.8 V481.8 H2.5 Z"/></clipPath>
<path d="M2.5 472.6 H87.5 V456.3 H170 V472.6 H253.8 V481.8 H2.5 Z" fill="#e91f26" stroke="#a81a1f" stroke-width="0.7"/>
<g clip-path="url(#cd2)"><path d="M123.75 482.5 V477.75 A6.25 6.25 0 0 1 136.25 477.75 V482.5 Z" fill="#2a4db0" stroke="#f5cfdf" stroke-width="2.0"/><path d="M151.15 482.5 V475.95 A7.35 7.35 0 0 1 165.85 475.95 V482.5 Z" fill="#2a4db0" stroke="#f5cfdf" stroke-width="2.0"/></g>
<text x="136.8" y="468" font-size="10" class="b nos" style="fill:#fff" text-anchor="middle">2</text><text x="164.5" y="466.7" font-size="10" class="b nos" style="fill:#fff" text-anchor="middle">1</text>
<text transform="translate(184.30,469.00) scale(0.96,1)" text-anchor="start" font-size="12" class="hv">0.44</text>
<clipPath id="cd3"><path d="M2.5 512.3 H86 V496 H170 V512.3 H253.8 V521.2 H2.5 Z"/></clipPath>
<path d="M2.5 512.3 H86 V496 H170 V512.3 H253.8 V521.2 H2.5 Z" fill="#e91f26" stroke="#a81a1f" stroke-width="0.7"/>
<g clip-path="url(#cd3)"><path d="M140.30 522 V516.60 A8.30 8.30 0 0 1 156.90 516.60 V522 Z" fill="#2a4db0" stroke="#f5cfdf" stroke-width="2.0"/><path d="M174.62 509.80 L181.18 523.70 H203.08 L211.52 509.80 Z" fill="#2a4db0" stroke="#f5cfdf" stroke-width="1.9"/></g>
<text x="158.4" y="507.8" font-size="10" class="b nos" style="fill:#fff" text-anchor="middle">2</text><text x="218" y="520.8" font-size="10" class="b nos" style="fill:#fff" text-anchor="middle">1</text>
<text transform="translate(184.30,509.00) scale(0.96,1)" text-anchor="start" font-size="12" class="hv">0.64</text>
<clipPath id="cd4"><path d="M2.5 550.4 H86 V534 H170 V550.4 H253.8 V559.2 H2.5 Z"/></clipPath>
<path d="M2.5 550.4 H86 V534 H170 V550.4 H253.8 V559.2 H2.5 Z" fill="#e91f26" stroke="#a81a1f" stroke-width="0.7"/>
<g clip-path="url(#cd4)"><path d="M123.45 560 V555.45 A6.25 6.25 0 0 1 135.95 555.45 V560 Z" fill="#2a4db0" stroke="#f5cfdf" stroke-width="2.0"/><path d="M151.45 560 V553.05 A7.25 7.25 0 0 1 165.95 553.05 V560 Z" fill="#2a4db0" stroke="#f5cfdf" stroke-width="2.0"/><path d="M207.47 547.90 L215.93 561.70 H238.92 L247.08 547.90 Z" fill="#2a4db0" stroke="#f5cfdf" stroke-width="1.9"/></g>
<text x="138.8" y="546.6" font-size="10" class="b nos" style="fill:#fff" text-anchor="middle">3</text><text x="164.4" y="544" font-size="10" class="b nos" style="fill:#fff" text-anchor="middle">2</text><text x="250" y="558.8" font-size="10" class="b nos" style="fill:#fff" text-anchor="middle">1</text>
<text transform="translate(184.30,546.00) scale(0.96,1)" text-anchor="start" font-size="12" class="hv">0.76</text>
<clipPath id="cd5"><path d="M2.5 588.7 H86 V572.5 H170 V588.7 H253.8 V597.4 H2.5 Z"/></clipPath>
<path d="M2.5 588.7 H86 V572.5 H170 V588.7 H253.8 V597.4 H2.5 Z" fill="#e91f26" stroke="#a81a1f" stroke-width="0.7"/>
<g clip-path="url(#cd5)"><path d="M136.95 598 V593.65 A7.35 7.35 0 0 1 151.65 593.65 V598 Z" fill="#2a4db0" stroke="#f5cfdf" stroke-width="2.0"/><path d="M171 585.5 Q166.8 593 171 600.5 H190.6 L197.7 585.5 Z" fill="#2a4db0" stroke="#f5cfdf" stroke-width="1.9"/><path d="M252.3 587 l1 12" stroke="#f5cfdf" stroke-width="1.3"/></g>
<text x="153.5" y="585.3" font-size="10" class="b nos" style="fill:#fff" text-anchor="middle">3</text><text x="204" y="597" font-size="10" class="b nos" style="fill:#fff" text-anchor="middle">2</text><text x="246" y="597" font-size="10" class="b nos" style="fill:#fff" text-anchor="middle">1</text>
<text transform="translate(184.30,585.50) scale(0.96,1)" text-anchor="start" font-size="12" class="hv">0.91</text>
</g>
<g id="pG">
<text x="256.8" y="378" class="b lab" font-size="13.5">G</text>
<path d="M268.8 389.3 H298" stroke="#111" stroke-width="1.9" fill="none"/><path d="M303.8 389.3 l-8.5 -4.2 l2.2 4.2 l-2.2 4.2 Z" fill="#111"/>
<text transform="translate(306.30,394.00) scale(0.95,1)" text-anchor="start" font-size="12" class="hv">Current</text>
<clipPath id="cg0"><path d="M268.8 396.9 H352.2 V380.59999999999997 H435.5 V396.9 H518.3 V405.2 H268.8 Z"/></clipPath>
<path d="M268.8 396.9 H352.2 V380.59999999999997 H435.5 V396.9 H518.3 V405.2 H268.8 Z" fill="#e91f26" stroke="#a81a1f" stroke-width="0.7"/>
<g clip-path="url(#cg0)"><path d="M390.00 407 V406.50 A4.00 4.00 0 0 1 398.00 406.50 V407 Z" fill="#2a4db0" stroke="#f5cfdf" stroke-width="2.0"/></g>
<text x="401.5" y="395" font-size="10" class="b nos" style="fill:#fff" text-anchor="middle">1</text>
<text transform="translate(450.60,392.60) scale(0.96,1)" text-anchor="start" font-size="12" class="hv">0.09 (ns)</text>
<clipPath id="cg1"><path d="M268.8 436.4 H352.2 V420.09999999999997 H435.5 V436.4 H518 V444.79999999999995 H268.8 Z"/></clipPath>
<path d="M268.8 436.4 H352.2 V420.09999999999997 H435.5 V436.4 H518 V444.79999999999995 H268.8 Z" fill="#e91f26" stroke="#a81a1f" stroke-width="0.7"/>
<g clip-path="url(#cg1)"><path d="M388.50 446 V442.10 A6.50 6.50 0 0 1 401.50 442.10 V446 Z" fill="#2a4db0" stroke="#f5cfdf" stroke-width="2.0"/></g>
<text x="401" y="430" font-size="10" class="b nos" style="fill:#fff" text-anchor="middle">1</text>
<text transform="translate(450.60,431.40) scale(0.96,1)" text-anchor="start" font-size="12" class="hv">0.12</text>
<clipPath id="cg2"><path d="M268.8 472.8 H352.2 V456.5 H435.5 V472.8 H518 V481.2 H268.8 Z"/></clipPath>
<path d="M268.8 472.8 H352.2 V456.5 H435.5 V472.8 H518 V481.2 H268.8 Z" fill="#e91f26" stroke="#a81a1f" stroke-width="0.7"/>
<g clip-path="url(#cg2)"><path d="M385.00 482.5 A5.00 4.50 0 0 1 395.00 482.5 Z" fill="#2a4db0" stroke="#f5cfdf" stroke-width="2.0"/></g>
<text x="395.4" y="469" font-size="10" class="b nos" style="fill:#fff" text-anchor="middle">1</text>
<text transform="translate(450.60,468.20) scale(0.96,1)" text-anchor="start" font-size="12" class="hv">0.25</text>
<clipPath id="cg3"><path d="M268.8 512.5 H352.2 V496.2 H435.5 V512.5 H521 V520.6 H268.8 Z"/></clipPath>
<path d="M268.8 512.5 H352.2 V496.2 H435.5 V512.5 H521 V520.6 H268.8 Z" fill="#e91f26" stroke="#a81a1f" stroke-width="0.7"/>
<g clip-path="url(#cg3)"></g>

<text transform="translate(450.60,507.80) scale(0.96,1)" text-anchor="start" font-size="12" class="hv">0.32</text>
<clipPath id="cg4"><path d="M268.8 550.6 H352.2 V534.2 H435.5 V550.6 H521 V558.6 H268.8 Z"/></clipPath>
<path d="M268.8 550.6 H352.2 V534.2 H435.5 V550.6 H521 V558.6 H268.8 Z" fill="#e91f26" stroke="#a81a1f" stroke-width="0.7"/>
<g clip-path="url(#cg4)"><path d="M392.70 560 V559.70 A3.50 3.50 0 0 1 399.70 559.70 V560 Z" fill="#2a4db0" stroke="#f5cfdf" stroke-width="2.0"/></g>
<text x="403" y="549.6" font-size="10" class="b nos" style="fill:#fff" text-anchor="middle">2</text>
<text transform="translate(450.60,546.20) scale(0.96,1)" text-anchor="start" font-size="12" class="hv">0.41</text>
<clipPath id="cg5"><path d="M268.8 588.9000000000001 H352.2 V572.7 H435.5 V588.9000000000001 H518.2 V597.6 H268.8 Z"/></clipPath>
<path d="M268.8 588.9000000000001 H352.2 V572.7 H435.5 V588.9000000000001 H518.2 V597.6 H268.8 Z" fill="#e91f26" stroke="#a81a1f" stroke-width="0.7"/>
<g clip-path="url(#cg5)"><path d="M391.40 598 V594.50 A4.90 4.90 0 0 1 401.20 594.50 V598 Z" fill="#2a4db0" stroke="#f5cfdf" stroke-width="2.0"/></g>
<text x="403.8" y="582.8" font-size="10" class="b nos" style="fill:#fff" text-anchor="middle">2</text>
<text transform="translate(450.60,584.60) scale(0.96,1)" text-anchor="start" font-size="12" class="hv">0.44</text>
</g>
<g id="pH">
<text x="2.8" y="626.5" class="b lab" font-size="13">H</text>
<path d="M134.3 629.5 V777.5 M44.3 746.5 H224.7" stroke="#2e2e2e" stroke-width="1.35" fill="none"/>
<path d="M58.55 746.50 L68.65 746.50 L78.75 746.50 L88.85 746.50 L98.95 746.50 L109.05 746.50 L121.68 746.50 L129.25 746.50 L134.30 746.50 L139.35 746.50 L146.42 746.50 L146.93 729.01 L154.50 718.40 L159.55 711.37 L169.65 697.46 L180.25 682.86 L190.36 669.22 L200.46 654.90 L205.50 648.01 L210.56 640.71" fill="none" stroke="#e91f26" stroke-width="1.5"/>
<circle cx="58.55" cy="746.50" r="3.6" fill="#e3222b"/>
<circle cx="68.65" cy="746.50" r="3.6" fill="#e3222b"/>
<circle cx="78.75" cy="746.50" r="3.6" fill="#e3222b"/>
<circle cx="88.85" cy="746.50" r="3.6" fill="#e3222b"/>
<circle cx="98.95" cy="746.50" r="3.6" fill="#e3222b"/>
<circle cx="109.05" cy="746.50" r="3.6" fill="#e3222b"/>
<circle cx="121.68" cy="746.50" r="3.6" fill="#e3222b"/>
<circle cx="129.25" cy="746.50" r="3.6" fill="#e3222b"/>
<circle cx="134.30" cy="746.50" r="3.6" fill="#e3222b"/>
<circle cx="139.35" cy="746.50" r="3.6" fill="#e3222b"/>
<circle cx="146.42" cy="746.50" r="3.6" fill="#e3222b"/>
<circle cx="146.93" cy="729.01" r="3.6" fill="#e3222b"/>
<circle cx="154.50" cy="718.40" r="3.6" fill="#e3222b"/>
<circle cx="159.55" cy="711.37" r="3.6" fill="#e3222b"/>
<circle cx="169.65" cy="697.46" r="3.6" fill="#e3222b"/>
<circle cx="180.25" cy="682.86" r="3.6" fill="#e3222b"/>
<circle cx="190.36" cy="669.22" r="3.6" fill="#e3222b"/>
<circle cx="200.46" cy="654.90" r="3.6" fill="#e3222b"/>
<circle cx="205.50" cy="648.01" r="3.6" fill="#e3222b"/>
<circle cx="210.56" cy="640.71" r="3.6" fill="#e3222b"/>
<rect x="44.3" y="629.5" width="180.39999999999998" height="148.0" fill="none" stroke="#2e2e2e" stroke-width="1.4"/>
<path d="M58.55 777.5 v-4.8 M58.55 629.5 v4.8 M83.80 777.5 v-4.8 M83.80 629.5 v4.8 M109.05 777.5 v-4.8 M109.05 629.5 v4.8 M134.30 777.5 v-4.8 M134.30 629.5 v4.8 M159.55 777.5 v-4.8 M159.55 629.5 v4.8 M184.80 777.5 v-4.8 M184.80 629.5 v4.8 M210.05 777.5 v-4.8 M210.05 629.5 v4.8 M45.93 777.5 v-2.6 M45.93 629.5 v2.6 M71.18 777.5 v-2.6 M71.18 629.5 v2.6 M96.43 777.5 v-2.6 M96.43 629.5 v2.6 M121.68 777.5 v-2.6 M121.68 629.5 v2.6 M146.93 777.5 v-2.6 M146.93 629.5 v2.6 M172.18 777.5 v-2.6 M172.18 629.5 v2.6 M197.43 777.5 v-2.6 M197.43 629.5 v2.6 M222.68 777.5 v-2.6 M222.68 629.5 v2.6 M44.3 774.05 h4.8 M224.7 774.05 h-4.8 M44.3 746.50 h4.8 M224.7 746.50 h-4.8 M44.3 718.95 h4.8 M224.7 718.95 h-4.8 M44.3 691.40 h4.8 M224.7 691.40 h-4.8 M44.3 663.85 h4.8 M224.7 663.85 h-4.8 M44.3 636.30 h4.8 M224.7 636.30 h-4.8 M44.3 760.27 h2.6 M224.7 760.27 h-2.6 M44.3 732.73 h2.6 M224.7 732.73 h-2.6 M44.3 705.17 h2.6 M224.7 705.17 h-2.6 M44.3 677.62 h2.6 M224.7 677.62 h-2.6 M44.3 650.08 h2.6 M224.7 650.08 h-2.6" stroke="#2e2e2e" stroke-width="1" fill="none"/>
<text transform="translate(58.95,789.00) scale(0.96,1)" text-anchor="middle" font-size="11">-15</text>
<text transform="translate(84.20,789.00) scale(0.96,1)" text-anchor="middle" font-size="11">-10</text>
<text transform="translate(109.45,789.00) scale(0.96,1)" text-anchor="middle" font-size="11">-5</text>
<text transform="translate(134.60,789.00) scale(0.96,1)" text-anchor="middle" font-size="11">0</text>
<text transform="translate(159.85,789.00) scale(0.96,1)" text-anchor="middle" font-size="11">5</text>
<text transform="translate(185.10,789.00) scale(0.96,1)" text-anchor="middle" font-size="11">10</text>
<text transform="translate(210.35,789.00) scale(0.96,1)" text-anchor="middle" font-size="11">15</text>
<text transform="translate(37.90,777.95) scale(0.98,1)" text-anchor="end" font-size="11">-0.02</text>
<text transform="translate(37.90,750.40) scale(0.98,1)" text-anchor="end" font-size="11">0.00</text>
<text transform="translate(37.90,722.85) scale(0.98,1)" text-anchor="end" font-size="11">0.02</text>
<text transform="translate(37.90,695.30) scale(0.98,1)" text-anchor="end" font-size="11">0.04</text>
<text transform="translate(37.90,667.75) scale(0.98,1)" text-anchor="end" font-size="11">0.06</text>
<text transform="translate(37.90,640.20) scale(0.98,1)" text-anchor="end" font-size="11">0.08</text>
<text transform="translate(134.50,805.20) scale(1.05,1)" text-anchor="middle" font-size="11"><tspan class="i">J</tspan> (×10<tspan font-size="6.2" dy="-4.8">12</tspan><tspan dy="4.8"> Am</tspan><tspan font-size="6.2" dy="-4.8">−2</tspan><tspan dy="4.8">)</tspan></text>
<text transform="translate(11.40,704.00) rotate(-90) scale(1.0,1)" text-anchor="middle" font-size="11.6"><tspan class="i" font-size="10.5">ε</tspan> (mV)</text>
<text transform="translate(78.00,731.50) scale(0.95,1)" text-anchor="start" font-size="11.5">Reverse</text>
<text transform="translate(169.00,731.50) scale(0.95,1)" text-anchor="start" font-size="11.5">Forward</text>
</g>
<g id="pI">
<text x="258.6" y="626.5" class="b lab" font-size="13">I</text>
<path d="M325.24 766.42 L343.34 749.31 L355.41 722.41 L379.55 678.40 L403.69 661.29 L427.83 651.51 L451.97 649.06 L464.04 649.06 L476.11 649.06" fill="none" stroke="#161616" stroke-width="1.7"/>
<circle cx="325.24" cy="766.42" r="3.7" fill="#2c4ca8"/>
<circle cx="343.34" cy="749.31" r="3.7" fill="#2c4ca8"/>
<circle cx="355.41" cy="722.41" r="3.7" fill="#2c4ca8"/>
<circle cx="379.55" cy="678.40" r="3.7" fill="#2c4ca8"/>
<circle cx="403.69" cy="661.29" r="3.7" fill="#2c4ca8"/>
<circle cx="427.83" cy="651.51" r="3.7" fill="#2c4ca8"/>
<circle cx="451.97" cy="649.06" r="3.7" fill="#2c4ca8"/>
<circle cx="464.04" cy="649.06" r="3.7" fill="#2c4ca8"/>
<circle cx="476.11" cy="649.06" r="3.7" fill="#2c4ca8"/>
<rect x="307.13" y="629.5" width="181.05" height="146.70" fill="none" stroke="#2e2e2e" stroke-width="1.4"/>
<path d="M319.20 776.2 v-5 M319.20 629.5 v5 M343.34 776.2 v-5 M343.34 629.5 v5 M367.48 776.2 v-5 M367.48 629.5 v5 M391.62 776.2 v-5 M391.62 629.5 v5 M415.76 776.2 v-5 M415.76 629.5 v5 M439.90 776.2 v-5 M439.90 629.5 v5 M464.04 776.2 v-5 M464.04 629.5 v5 M331.27 776.2 v-2.8 M331.27 629.5 v2.8 M355.41 776.2 v-2.8 M355.41 629.5 v2.8 M379.55 776.2 v-2.8 M379.55 629.5 v2.8 M403.69 776.2 v-2.8 M403.69 629.5 v2.8 M427.83 776.2 v-2.8 M427.83 629.5 v2.8 M451.97 776.2 v-2.8 M451.97 629.5 v2.8 M476.11 776.2 v-2.8 M476.11 629.5 v2.8 M307.13 751.75 h5 M488.18 751.75 h-5 M307.13 727.30 h5 M488.18 727.30 h-5 M307.13 702.85 h5 M488.18 702.85 h-5 M307.13 678.40 h5 M488.18 678.40 h-5 M307.13 653.95 h5 M488.18 653.95 h-5 M307.13 763.98 h2.8 M488.18 763.98 h-2.8 M307.13 739.53 h2.8 M488.18 739.53 h-2.8 M307.13 715.08 h2.8 M488.18 715.08 h-2.8 M307.13 690.62 h2.8 M488.18 690.62 h-2.8 M307.13 666.18 h2.8 M488.18 666.18 h-2.8 M307.13 641.73 h2.8 M488.18 641.73 h-2.8" stroke="#2e2e2e" stroke-width="1" fill="none"/>
<text transform="translate(319.20,787.60) scale(0.93,1)" text-anchor="middle" font-size="11">2</text>
<text transform="translate(343.34,787.60) scale(0.93,1)" text-anchor="middle" font-size="11">4</text>
<text transform="translate(367.48,787.60) scale(0.93,1)" text-anchor="middle" font-size="11">6</text>
<text transform="translate(391.62,787.60) scale(0.93,1)" text-anchor="middle" font-size="11">8</text>
<text transform="translate(415.76,787.60) scale(0.93,1)" text-anchor="middle" font-size="11">10</text>
<text transform="translate(439.90,787.60) scale(0.93,1)" text-anchor="middle" font-size="11">12</text>
<text transform="translate(464.04,787.60) scale(0.93,1)" text-anchor="middle" font-size="11">14</text>
<text transform="translate(488.18,787.60) scale(0.93,1)" text-anchor="middle" font-size="11">16</text>
<text transform="translate(302.53,780.10) scale(1.0,1)" text-anchor="end" font-size="11">50</text>
<text transform="translate(302.53,755.65) scale(1.0,1)" text-anchor="end" font-size="11">60</text>
<text transform="translate(302.53,731.20) scale(1.0,1)" text-anchor="end" font-size="11">70</text>
<text transform="translate(302.53,706.75) scale(1.0,1)" text-anchor="end" font-size="11">80</text>
<text transform="translate(302.53,682.30) scale(1.0,1)" text-anchor="end" font-size="11">90</text>
<text transform="translate(302.53,657.85) scale(1.0,1)" text-anchor="end" font-size="11">100</text>
<text transform="translate(302.53,633.40) scale(1.0,1)" text-anchor="end" font-size="11">110</text>
<text transform="translate(399.20,803.30) scale(1.0,1)" text-anchor="middle" font-size="11"><tspan class="i">J</tspan> (×10<tspan font-size="6.2" dy="-4.8">12</tspan><tspan dy="4.8"> Am</tspan><tspan font-size="6.2" dy="-4.8">−2</tspan><tspan dy="4.8">)</tspan></text>
<text transform="translate(279.00,703.00) rotate(-90) scale(1.0,1)" text-anchor="middle" font-size="11">Domain wall width (nm)</text>
</g>
</g></svg></body></html>
